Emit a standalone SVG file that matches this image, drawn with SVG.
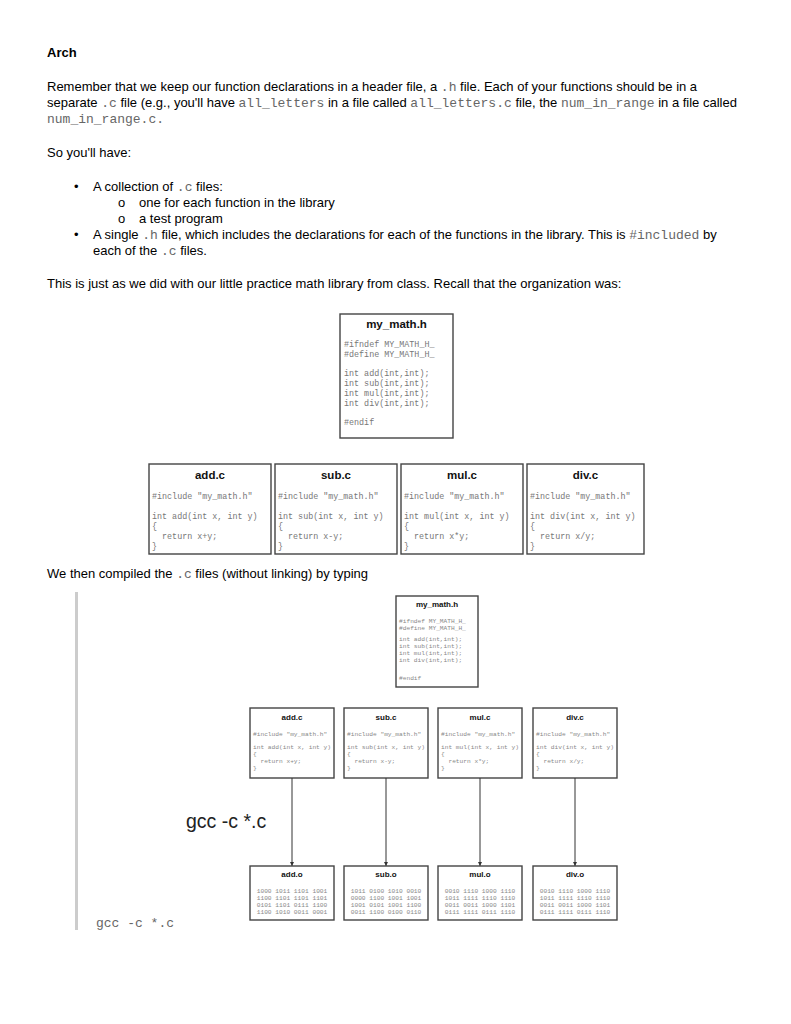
<svg xmlns="http://www.w3.org/2000/svg" width="791" height="1024" viewBox="0 0 791 1024">
<style>
.t{font-family:"Liberation Sans",Arial,sans-serif;font-size:13px;fill:#000}
.m{font-family:"Liberation Mono","Courier New",monospace;fill:#666}
.b{font-weight:bold}
.box{fill:#fff;stroke:#444;stroke-width:1.4}
.c1{font-family:"Liberation Mono","Courier New",monospace;font-size:8.4px;fill:#777;white-space:pre}
.c2{font-family:"Liberation Mono","Courier New",monospace;font-size:6.2px;fill:#888;white-space:pre}
.h1{font-family:"Liberation Sans",Arial,sans-serif;font-weight:bold;font-size:11.5px;fill:#111;text-anchor:middle}
.h2{font-family:"Liberation Sans",Arial,sans-serif;font-weight:bold;font-size:8px;fill:#111;text-anchor:middle}
.conn{stroke:#333;stroke-width:1;fill:none;marker-end:url(#ah)}
</style>
<defs>
<marker id="ah" viewBox="0 0 6 6" refX="6" refY="3" markerWidth="4" markerHeight="4" markerUnits="userSpaceOnUse" orient="auto"><path d="M0,0 L6,3 L0,6 z" fill="#333"/></marker>
</defs>
<rect width="791" height="1024" fill="#fff"/>

<g id="body-text">
<text class="t b" x="47" y="57">Arch</text>
<text class="t" x="47" y="91" xml:space="preserve">Remember that we keep our function declarations in a header file, a <tspan class="m">.h</tspan> file. Each of your functions should be in a</text>
<text class="t" x="47" y="107" xml:space="preserve">separate <tspan class="m">.c</tspan> file (e.g., you'll have <tspan class="m">all_letters</tspan> in a file called <tspan class="m">all_letters.c</tspan> file, the <tspan class="m">num_in_range</tspan> in a file called</text>
<text class="t m" x="47" y="123">num_in_range.c.</text>
<text class="t" x="47" y="157">So you'll have:</text>
<text class="t" x="74" y="191" font-size="11">•</text>
<text class="t" x="93" y="191" xml:space="preserve">A collection of <tspan class="m">.c</tspan> files:</text>
<text class="t" x="118" y="207" font-size="11" fill="#333">o</text>
<text class="t" x="139" y="207">one for each function in the library</text>
<text class="t" x="118" y="223" font-size="11" fill="#333">o</text>
<text class="t" x="139" y="223">a test program</text>
<text class="t" x="74" y="239" font-size="11">•</text>
<text class="t" x="93" y="239" xml:space="preserve">A single <tspan class="m">.h</tspan> file, which includes the declarations for each of the functions in the library. This is <tspan class="m">#included</tspan> by</text>
<text class="t" x="93" y="255" xml:space="preserve">each of the <tspan class="m">.c</tspan> files.</text>
<text class="t" x="47" y="288">This is just as we did with our little practice math library from class. Recall that the organization was:</text>
<text class="t" x="47" y="578" xml:space="preserve">We then compiled the <tspan class="m">.c</tspan> files (without linking) by typing</text>
</g>

<g id="h1-node">
<rect class="box" x="340" y="314" width="113" height="124"/>
<text class="h1" x="396.5" y="328">my_math.h</text>
<text class="c1" x="344" y="347">#ifndef MY_MATH_H_</text>
<text class="c1" x="344" y="357">#define MY_MATH_H_</text>
<text class="c1" x="344" y="376">int add(int,int);</text>
<text class="c1" x="344" y="386">int sub(int,int);</text>
<text class="c1" x="344" y="396">int mul(int,int);</text>
<text class="c1" x="344" y="406">int div(int,int);</text>
<text class="c1" x="344" y="425">#endif</text>
</g>

<g id="addc-1">
<rect class="box" x="149" y="464" width="122" height="90"/>
<text class="h1" x="210" y="479">add.c</text>
<text class="c1" x="152" y="499">#include "my_math.h"</text>
<text class="c1" x="152" y="519">int add(int x, int y)</text>
<text class="c1" x="152" y="529">{</text>
<text class="c1" x="152" y="539">  return x+y;</text>
<text class="c1" x="152" y="549">}</text>
</g>
<g id="subc-1">
<rect class="box" x="275" y="464" width="122" height="90"/>
<text class="h1" x="336" y="479">sub.c</text>
<text class="c1" x="278" y="499">#include "my_math.h"</text>
<text class="c1" x="278" y="519">int sub(int x, int y)</text>
<text class="c1" x="278" y="529">{</text>
<text class="c1" x="278" y="539">  return x-y;</text>
<text class="c1" x="278" y="549">}</text>
</g>
<g id="mulc-1">
<rect class="box" x="401" y="464" width="122" height="90"/>
<text class="h1" x="462" y="479">mul.c</text>
<text class="c1" x="404" y="499">#include "my_math.h"</text>
<text class="c1" x="404" y="519">int mul(int x, int y)</text>
<text class="c1" x="404" y="529">{</text>
<text class="c1" x="404" y="539">  return x*y;</text>
<text class="c1" x="404" y="549">}</text>
</g>
<g id="divc-1">
<rect class="box" x="527" y="464" width="117" height="90"/>
<text class="h1" x="585.5" y="479">div.c</text>
<text class="c1" x="530" y="499">#include "my_math.h"</text>
<text class="c1" x="530" y="519">int div(int x, int y)</text>
<text class="c1" x="530" y="529">{</text>
<text class="c1" x="530" y="539">  return x/y;</text>
<text class="c1" x="530" y="549">}</text>
</g>

<g id="quote">
<rect x="75" y="592" width="3" height="338" fill="#ccc"/>
<text class="m" x="96" y="927" font-size="13" fill="#555">gcc -c *.c</text>
<text x="186" y="828" font-family="Liberation Sans, Arial, sans-serif" font-size="19.5" fill="#222">gcc -c *.c</text>
</g>

<g id="h2-node">
<rect class="box" x="396" y="596" width="82" height="91" stroke-width="1"/>
<text class="h2" x="437" y="607">my_math.h</text>
<text class="c2" x="399" y="623">#ifndef MY_MATH_H_</text>
<text class="c2" x="399" y="630">#define MY_MATH_H_</text>
<text class="c2" x="399" y="641">int add(int,int);</text>
<text class="c2" x="399" y="648">int sub(int,int);</text>
<text class="c2" x="399" y="655">int mul(int,int);</text>
<text class="c2" x="399" y="662">int div(int,int);</text>
<text class="c2" x="399" y="680">#endif</text>
</g>

<g id="addc-2">
<rect class="box" x="250" y="708" width="84" height="70" stroke-width="1"/>
<text class="h2" x="292" y="720">add.c</text>
<text class="c2" x="253" y="736">#include "my_math.h"</text>
<text class="c2" x="253" y="749">int add(int x, int y)</text>
<text class="c2" x="253" y="756">{</text>
<text class="c2" x="253" y="763">  return x+y;</text>
<text class="c2" x="253" y="770">}</text>
</g>
<g id="subc-2">
<rect class="box" x="344" y="708" width="84" height="70" stroke-width="1"/>
<text class="h2" x="386" y="720">sub.c</text>
<text class="c2" x="347" y="736">#include "my_math.h"</text>
<text class="c2" x="347" y="749">int sub(int x, int y)</text>
<text class="c2" x="347" y="756">{</text>
<text class="c2" x="347" y="763">  return x-y;</text>
<text class="c2" x="347" y="770">}</text>
</g>
<g id="mulc-2">
<rect class="box" x="438" y="708" width="84" height="70" stroke-width="1"/>
<text class="h2" x="480" y="720">mul.c</text>
<text class="c2" x="441" y="736">#include "my_math.h"</text>
<text class="c2" x="441" y="749">int mul(int x, int y)</text>
<text class="c2" x="441" y="756">{</text>
<text class="c2" x="441" y="763">  return x*y;</text>
<text class="c2" x="441" y="770">}</text>
</g>
<g id="divc-2">
<rect class="box" x="533" y="708" width="84" height="70" stroke-width="1"/>
<text class="h2" x="575" y="720">div.c</text>
<text class="c2" x="536" y="736">#include "my_math.h"</text>
<text class="c2" x="536" y="749">int div(int x, int y)</text>
<text class="c2" x="536" y="756">{</text>
<text class="c2" x="536" y="763">  return x/y;</text>
<text class="c2" x="536" y="770">}</text>
</g>

<g id="connectors">
<line class="conn" x1="292" y1="778" x2="292" y2="866"/>
<line class="conn" x1="386" y1="778" x2="386" y2="866"/>
<line class="conn" x1="480" y1="778" x2="480" y2="866"/>
<line class="conn" x1="575" y1="778" x2="575" y2="866"/>
</g>

<g id="addo">
<rect class="box" x="250" y="866" width="84" height="54" stroke-width="1"/>
<text class="h2" x="292" y="877">add.o</text>
<text class="c2" x="292" y="893" text-anchor="middle">1000 1011 1101 1001</text>
<text class="c2" x="292" y="900" text-anchor="middle">1100 1101 1101 1101</text>
<text class="c2" x="292" y="907" text-anchor="middle">0101 1101 0111 1100</text>
<text class="c2" x="292" y="914" text-anchor="middle">1100 1010 0011 0001</text>
</g>
<g id="subo">
<rect class="box" x="344" y="866" width="84" height="54" stroke-width="1"/>
<text class="h2" x="386" y="877">sub.o</text>
<text class="c2" x="386" y="893" text-anchor="middle">1011 0100 1010 0010</text>
<text class="c2" x="386" y="900" text-anchor="middle">0000 1100 1001 1001</text>
<text class="c2" x="386" y="907" text-anchor="middle">1001 0101 1001 1100</text>
<text class="c2" x="386" y="914" text-anchor="middle">0011 1100 0100 0110</text>
</g>
<g id="mulo">
<rect class="box" x="438" y="866" width="84" height="54" stroke-width="1"/>
<text class="h2" x="480" y="877">mul.o</text>
<text class="c2" x="480" y="893" text-anchor="middle">0010 1110 1000 1110</text>
<text class="c2" x="480" y="900" text-anchor="middle">1011 1111 1110 1110</text>
<text class="c2" x="480" y="907" text-anchor="middle">0011 0011 1000 1101</text>
<text class="c2" x="480" y="914" text-anchor="middle">0111 1111 0111 1110</text>
</g>
<g id="divo">
<rect class="box" x="533" y="866" width="84" height="54" stroke-width="1"/>
<text class="h2" x="575" y="877">div.o</text>
<text class="c2" x="575" y="893" text-anchor="middle">0010 1110 1000 1110</text>
<text class="c2" x="575" y="900" text-anchor="middle">1011 1111 1110 1110</text>
<text class="c2" x="575" y="907" text-anchor="middle">0011 0011 1000 1101</text>
<text class="c2" x="575" y="914" text-anchor="middle">0111 1111 0111 1110</text>
</g>
</svg>
